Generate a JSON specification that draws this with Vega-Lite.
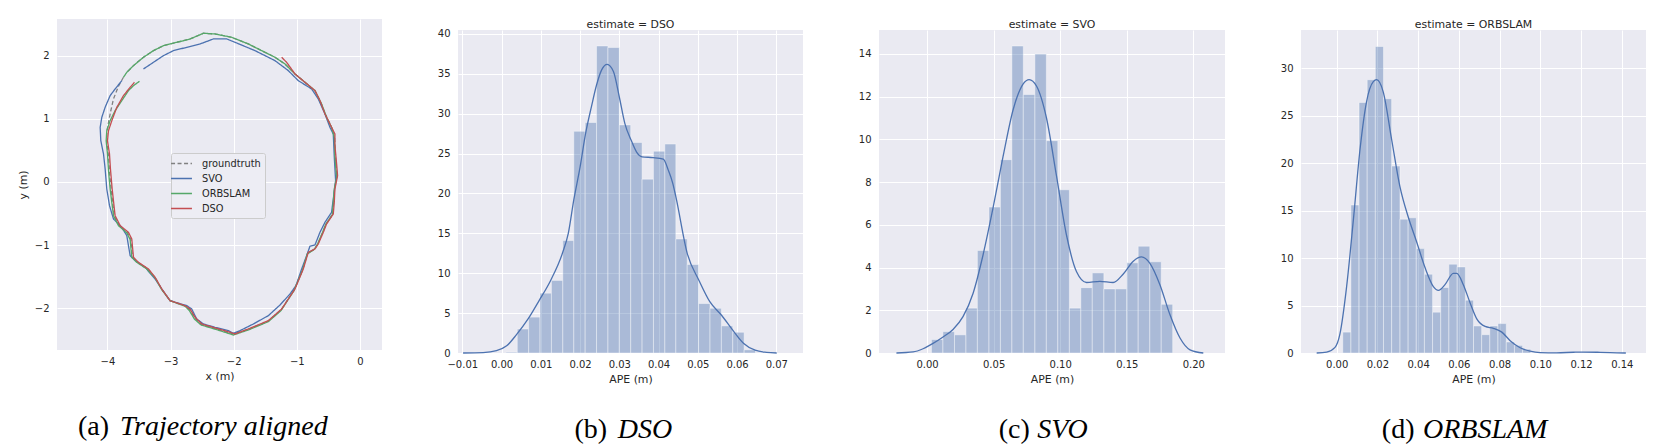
{
  "$schema": "https://vega.github.io/schema/vega-lite/v6.json",
  "background": "#ffffff",
  "padding": {"left": 17, "top": 18, "right": 0, "bottom": 0},
  "config": {
    "font": "DejaVu Sans",
    "view": {"stroke": null},
    "axis": {
      "grid": true, "gridColor": "#ffffff", "gridWidth": 1,
      "domain": false, "ticks": false, "tickSize": 0,
      "labelColor": "#262626", "labelFontSize": 10, "labelPadding": 8, "labelFont": "DejaVu Sans",
      "titleColor": "#262626", "titleFontSize": 10.9, "titleFontWeight": "normal", "titleFont": "DejaVu Sans",
      "titlePadding": 4
    },
    "axisX": {"labelPadding": 6},
    "legend": {
      "fillColor": "#EDEDF4", "strokeColor": "#cccccc", "padding": 4, "cornerRadius": 2,
      "symbolType": "M-1.9,0L1.9,0", "symbolSize": 121, "symbolStrokeWidth": 1.3,
      "labelFontSize": 9.8, "labelColor": "#262626", "labelFont": "DejaVu Sans", "rowPadding": 3, "labelOffset": 14
    }
  },
  "datasets": {
    "traj": [
      {"estimate": "groundtruth", "i": 0, "x": -3.747, "y": 1.657},
      {"estimate": "groundtruth", "i": 1, "x": -3.826, "y": 1.515},
      {"estimate": "groundtruth", "i": 2, "x": -3.905, "y": 1.314},
      {"estimate": "groundtruth", "i": 3, "x": -3.947, "y": 1.129},
      {"estimate": "groundtruth", "i": 4, "x": -3.984, "y": 0.945},
      {"estimate": "groundtruth", "i": 5, "x": -4.011, "y": 0.786},
      {"estimate": "groundtruth", "i": 6, "x": -4.011, "y": 0.628},
      {"estimate": "groundtruth", "i": 7, "x": -3.984, "y": 0.417},
      {"estimate": "groundtruth", "i": 8, "x": -3.968, "y": 0.153},
      {"estimate": "groundtruth", "i": 9, "x": -3.942, "y": -0.111},
      {"estimate": "groundtruth", "i": 10, "x": -3.894, "y": -0.533},
      {"estimate": "groundtruth", "i": 11, "x": -3.815, "y": -0.691},
      {"estimate": "groundtruth", "i": 12, "x": -3.683, "y": -0.802},
      {"estimate": "groundtruth", "i": 13, "x": -3.631, "y": -0.908},
      {"estimate": "groundtruth", "i": 14, "x": -3.604, "y": -1.193},
      {"estimate": "groundtruth", "i": 15, "x": -3.525, "y": -1.272},
      {"estimate": "groundtruth", "i": 16, "x": -3.367, "y": -1.377},
      {"estimate": "groundtruth", "i": 17, "x": -3.245, "y": -1.514},
      {"estimate": "groundtruth", "i": 18, "x": -3.140, "y": -1.699},
      {"estimate": "groundtruth", "i": 19, "x": -3.008, "y": -1.879},
      {"estimate": "groundtruth", "i": 20, "x": -2.770, "y": -1.963},
      {"estimate": "groundtruth", "i": 21, "x": -2.697, "y": -2.021},
      {"estimate": "groundtruth", "i": 22, "x": -2.617, "y": -2.153},
      {"estimate": "groundtruth", "i": 23, "x": -2.512, "y": -2.259},
      {"estimate": "groundtruth", "i": 24, "x": -2.269, "y": -2.327},
      {"estimate": "groundtruth", "i": 25, "x": -2.021, "y": -2.406},
      {"estimate": "groundtruth", "i": 26, "x": -1.768, "y": -2.332},
      {"estimate": "groundtruth", "i": 27, "x": -1.451, "y": -2.201},
      {"estimate": "groundtruth", "i": 28, "x": -1.245, "y": -2.021},
      {"estimate": "groundtruth", "i": 29, "x": -1.040, "y": -1.704},
      {"estimate": "groundtruth", "i": 30, "x": -0.908, "y": -1.388},
      {"estimate": "groundtruth", "i": 31, "x": -0.828, "y": -1.124},
      {"estimate": "groundtruth", "i": 32, "x": -0.723, "y": -1.066},
      {"estimate": "groundtruth", "i": 33, "x": -0.670, "y": -0.987},
      {"estimate": "groundtruth", "i": 34, "x": -0.591, "y": -0.802},
      {"estimate": "groundtruth", "i": 35, "x": -0.538, "y": -0.670},
      {"estimate": "groundtruth", "i": 36, "x": -0.433, "y": -0.512},
      {"estimate": "groundtruth", "i": 37, "x": -0.417, "y": -0.322},
      {"estimate": "groundtruth", "i": 38, "x": -0.401, "y": -0.111},
      {"estimate": "groundtruth", "i": 39, "x": -0.364, "y": 0.090},
      {"estimate": "groundtruth", "i": 40, "x": -0.385, "y": 0.364},
      {"estimate": "groundtruth", "i": 41, "x": -0.401, "y": 0.707},
      {"estimate": "groundtruth", "i": 42, "x": -0.459, "y": 0.892},
      {"estimate": "groundtruth", "i": 43, "x": -0.538, "y": 1.050},
      {"estimate": "groundtruth", "i": 44, "x": -0.623, "y": 1.261},
      {"estimate": "groundtruth", "i": 45, "x": -0.712, "y": 1.446},
      {"estimate": "groundtruth", "i": 46, "x": -0.871, "y": 1.578},
      {"estimate": "groundtruth", "i": 47, "x": -1.029, "y": 1.710},
      {"estimate": "groundtruth", "i": 48, "x": -1.187, "y": 1.868},
      {"estimate": "groundtruth", "i": 49, "x": -1.346, "y": 1.974},
      {"estimate": "groundtruth", "i": 50, "x": -1.557, "y": 2.079},
      {"estimate": "groundtruth", "i": 51, "x": -1.768, "y": 2.185},
      {"estimate": "groundtruth", "i": 52, "x": -2.032, "y": 2.290},
      {"estimate": "groundtruth", "i": 53, "x": -2.296, "y": 2.343},
      {"estimate": "groundtruth", "i": 54, "x": -2.480, "y": 2.354},
      {"estimate": "groundtruth", "i": 55, "x": -2.691, "y": 2.264},
      {"estimate": "groundtruth", "i": 56, "x": -2.902, "y": 2.211},
      {"estimate": "groundtruth", "i": 57, "x": -3.113, "y": 2.158},
      {"estimate": "groundtruth", "i": 58, "x": -3.272, "y": 2.079},
      {"estimate": "groundtruth", "i": 59, "x": -3.430, "y": 1.974},
      {"estimate": "groundtruth", "i": 60, "x": -3.588, "y": 1.842},
      {"estimate": "groundtruth", "i": 61, "x": -3.694, "y": 1.736},

      {"estimate": "SVO", "i": 0, "x": -3.430, "y": 1.789},
      {"estimate": "SVO", "i": 1, "x": -3.272, "y": 1.894},
      {"estimate": "SVO", "i": 2, "x": -3.113, "y": 2.000},
      {"estimate": "SVO", "i": 3, "x": -2.955, "y": 2.079},
      {"estimate": "SVO", "i": 4, "x": -2.744, "y": 2.132},
      {"estimate": "SVO", "i": 5, "x": -2.533, "y": 2.185},
      {"estimate": "SVO", "i": 6, "x": -2.322, "y": 2.264},
      {"estimate": "SVO", "i": 7, "x": -2.111, "y": 2.264},
      {"estimate": "SVO", "i": 8, "x": -1.979, "y": 2.211},
      {"estimate": "SVO", "i": 9, "x": -1.662, "y": 2.079},
      {"estimate": "SVO", "i": 10, "x": -1.346, "y": 1.921},
      {"estimate": "SVO", "i": 11, "x": -1.135, "y": 1.763},
      {"estimate": "SVO", "i": 12, "x": -0.976, "y": 1.604},
      {"estimate": "SVO", "i": 13, "x": -0.765, "y": 1.472},
      {"estimate": "SVO", "i": 14, "x": -0.660, "y": 1.314},
      {"estimate": "SVO", "i": 15, "x": -0.554, "y": 1.077},
      {"estimate": "SVO", "i": 16, "x": -0.475, "y": 0.865},
      {"estimate": "SVO", "i": 17, "x": -0.422, "y": 0.760},
      {"estimate": "SVO", "i": 18, "x": -0.406, "y": 0.391},
      {"estimate": "SVO", "i": 19, "x": -0.385, "y": 0.021},
      {"estimate": "SVO", "i": 20, "x": -0.422, "y": -0.269},
      {"estimate": "SVO", "i": 21, "x": -0.449, "y": -0.480},
      {"estimate": "SVO", "i": 22, "x": -0.554, "y": -0.639},
      {"estimate": "SVO", "i": 23, "x": -0.633, "y": -0.797},
      {"estimate": "SVO", "i": 24, "x": -0.712, "y": -0.997},
      {"estimate": "SVO", "i": 25, "x": -0.792, "y": -1.018},
      {"estimate": "SVO", "i": 26, "x": -0.844, "y": -1.166},
      {"estimate": "SVO", "i": 27, "x": -0.923, "y": -1.377},
      {"estimate": "SVO", "i": 28, "x": -1.013, "y": -1.641},
      {"estimate": "SVO", "i": 29, "x": -1.108, "y": -1.773},
      {"estimate": "SVO", "i": 30, "x": -1.266, "y": -1.947},
      {"estimate": "SVO", "i": 31, "x": -1.451, "y": -2.116},
      {"estimate": "SVO", "i": 32, "x": -1.689, "y": -2.248},
      {"estimate": "SVO", "i": 33, "x": -1.900, "y": -2.354},
      {"estimate": "SVO", "i": 34, "x": -2.005, "y": -2.396},
      {"estimate": "SVO", "i": 35, "x": -2.084, "y": -2.354},
      {"estimate": "SVO", "i": 36, "x": -2.296, "y": -2.301},
      {"estimate": "SVO", "i": 37, "x": -2.480, "y": -2.248},
      {"estimate": "SVO", "i": 38, "x": -2.586, "y": -2.169},
      {"estimate": "SVO", "i": 39, "x": -2.665, "y": -2.011},
      {"estimate": "SVO", "i": 40, "x": -2.744, "y": -1.958},
      {"estimate": "SVO", "i": 41, "x": -3.008, "y": -1.879},
      {"estimate": "SVO", "i": 42, "x": -3.140, "y": -1.694},
      {"estimate": "SVO", "i": 43, "x": -3.245, "y": -1.536},
      {"estimate": "SVO", "i": 44, "x": -3.404, "y": -1.351},
      {"estimate": "SVO", "i": 45, "x": -3.562, "y": -1.245},
      {"estimate": "SVO", "i": 46, "x": -3.641, "y": -1.166},
      {"estimate": "SVO", "i": 47, "x": -3.694, "y": -0.850},
      {"estimate": "SVO", "i": 48, "x": -3.773, "y": -0.718},
      {"estimate": "SVO", "i": 49, "x": -3.905, "y": -0.586},
      {"estimate": "SVO", "i": 50, "x": -3.968, "y": -0.375},
      {"estimate": "SVO", "i": 51, "x": -4.011, "y": -0.111},
      {"estimate": "SVO", "i": 52, "x": -4.037, "y": 0.206},
      {"estimate": "SVO", "i": 53, "x": -4.063, "y": 0.443},
      {"estimate": "SVO", "i": 54, "x": -4.106, "y": 0.654},
      {"estimate": "SVO", "i": 55, "x": -4.116, "y": 0.865},
      {"estimate": "SVO", "i": 56, "x": -4.090, "y": 1.024},
      {"estimate": "SVO", "i": 57, "x": -4.037, "y": 1.182},
      {"estimate": "SVO", "i": 58, "x": -3.958, "y": 1.367},
      {"estimate": "SVO", "i": 59, "x": -3.879, "y": 1.472},
      {"estimate": "SVO", "i": 60, "x": -3.773, "y": 1.604},

      {"estimate": "ORBSLAM", "i": 0, "x": -3.493, "y": 1.594},
      {"estimate": "ORBSLAM", "i": 1, "x": -3.588, "y": 1.525},
      {"estimate": "ORBSLAM", "i": 2, "x": -3.668, "y": 1.446},
      {"estimate": "ORBSLAM", "i": 3, "x": -3.773, "y": 1.288},
      {"estimate": "ORBSLAM", "i": 4, "x": -3.879, "y": 1.129},
      {"estimate": "ORBSLAM", "i": 5, "x": -3.958, "y": 0.971},
      {"estimate": "ORBSLAM", "i": 6, "x": -4.011, "y": 0.813},
      {"estimate": "ORBSLAM", "i": 7, "x": -4.021, "y": 0.654},
      {"estimate": "ORBSLAM", "i": 8, "x": -4.000, "y": 0.443},
      {"estimate": "ORBSLAM", "i": 9, "x": -3.984, "y": 0.179},
      {"estimate": "ORBSLAM", "i": 10, "x": -3.958, "y": -0.111},
      {"estimate": "ORBSLAM", "i": 11, "x": -3.905, "y": -0.533},
      {"estimate": "ORBSLAM", "i": 12, "x": -3.826, "y": -0.691},
      {"estimate": "ORBSLAM", "i": 13, "x": -3.694, "y": -0.807},
      {"estimate": "ORBSLAM", "i": 14, "x": -3.641, "y": -0.913},
      {"estimate": "ORBSLAM", "i": 15, "x": -3.615, "y": -1.193},
      {"estimate": "ORBSLAM", "i": 16, "x": -3.536, "y": -1.272},
      {"estimate": "ORBSLAM", "i": 17, "x": -3.377, "y": -1.377},
      {"estimate": "ORBSLAM", "i": 18, "x": -3.245, "y": -1.520},
      {"estimate": "ORBSLAM", "i": 19, "x": -3.140, "y": -1.705},
      {"estimate": "ORBSLAM", "i": 20, "x": -3.008, "y": -1.879},
      {"estimate": "ORBSLAM", "i": 21, "x": -2.770, "y": -1.968},
      {"estimate": "ORBSLAM", "i": 22, "x": -2.702, "y": -2.037},
      {"estimate": "ORBSLAM", "i": 23, "x": -2.623, "y": -2.169},
      {"estimate": "ORBSLAM", "i": 24, "x": -2.517, "y": -2.264},
      {"estimate": "ORBSLAM", "i": 25, "x": -2.269, "y": -2.338},
      {"estimate": "ORBSLAM", "i": 26, "x": -2.005, "y": -2.422},
      {"estimate": "ORBSLAM", "i": 27, "x": -1.768, "y": -2.343},
      {"estimate": "ORBSLAM", "i": 28, "x": -1.451, "y": -2.211},
      {"estimate": "ORBSLAM", "i": 29, "x": -1.251, "y": -2.037},
      {"estimate": "ORBSLAM", "i": 30, "x": -1.045, "y": -1.720},
      {"estimate": "ORBSLAM", "i": 31, "x": -0.913, "y": -1.404},
      {"estimate": "ORBSLAM", "i": 32, "x": -0.834, "y": -1.140},
      {"estimate": "ORBSLAM", "i": 33, "x": -0.728, "y": -1.071},
      {"estimate": "ORBSLAM", "i": 34, "x": -0.675, "y": -0.992},
      {"estimate": "ORBSLAM", "i": 35, "x": -0.596, "y": -0.807},
      {"estimate": "ORBSLAM", "i": 36, "x": -0.544, "y": -0.675},
      {"estimate": "ORBSLAM", "i": 37, "x": -0.438, "y": -0.517},
      {"estimate": "ORBSLAM", "i": 38, "x": -0.422, "y": -0.322},
      {"estimate": "ORBSLAM", "i": 39, "x": -0.406, "y": -0.111},
      {"estimate": "ORBSLAM", "i": 40, "x": -0.369, "y": 0.074},
      {"estimate": "ORBSLAM", "i": 41, "x": -0.396, "y": 0.391},
      {"estimate": "ORBSLAM", "i": 42, "x": -0.406, "y": 0.707},
      {"estimate": "ORBSLAM", "i": 43, "x": -0.449, "y": 0.865},
      {"estimate": "ORBSLAM", "i": 44, "x": -0.528, "y": 1.024},
      {"estimate": "ORBSLAM", "i": 45, "x": -0.607, "y": 1.235},
      {"estimate": "ORBSLAM", "i": 46, "x": -0.712, "y": 1.446},
      {"estimate": "ORBSLAM", "i": 47, "x": -0.871, "y": 1.578},
      {"estimate": "ORBSLAM", "i": 48, "x": -1.029, "y": 1.710},
      {"estimate": "ORBSLAM", "i": 49, "x": -1.187, "y": 1.868},
      {"estimate": "ORBSLAM", "i": 50, "x": -1.346, "y": 1.974},
      {"estimate": "ORBSLAM", "i": 51, "x": -1.557, "y": 2.079},
      {"estimate": "ORBSLAM", "i": 52, "x": -1.768, "y": 2.185},
      {"estimate": "ORBSLAM", "i": 53, "x": -2.032, "y": 2.290},
      {"estimate": "ORBSLAM", "i": 54, "x": -2.296, "y": 2.343},
      {"estimate": "ORBSLAM", "i": 55, "x": -2.480, "y": 2.354},
      {"estimate": "ORBSLAM", "i": 56, "x": -2.691, "y": 2.264},
      {"estimate": "ORBSLAM", "i": 57, "x": -2.902, "y": 2.211},
      {"estimate": "ORBSLAM", "i": 58, "x": -3.113, "y": 2.158},
      {"estimate": "ORBSLAM", "i": 59, "x": -3.272, "y": 2.079},
      {"estimate": "ORBSLAM", "i": 60, "x": -3.430, "y": 1.974},
      {"estimate": "ORBSLAM", "i": 61, "x": -3.588, "y": 1.842},
      {"estimate": "ORBSLAM", "i": 62, "x": -3.694, "y": 1.736},
      {"estimate": "ORBSLAM", "i": 63, "x": -3.747, "y": 1.657},

      {"estimate": "DSO", "i": 0, "x": -3.573, "y": 1.578},
      {"estimate": "DSO", "i": 1, "x": -3.641, "y": 1.499},
      {"estimate": "DSO", "i": 2, "x": -3.747, "y": 1.367},
      {"estimate": "DSO", "i": 3, "x": -3.852, "y": 1.182},
      {"estimate": "DSO", "i": 4, "x": -3.931, "y": 0.971},
      {"estimate": "DSO", "i": 5, "x": -3.984, "y": 0.813},
      {"estimate": "DSO", "i": 6, "x": -4.000, "y": 0.654},
      {"estimate": "DSO", "i": 7, "x": -3.968, "y": 0.443},
      {"estimate": "DSO", "i": 8, "x": -3.953, "y": 0.206},
      {"estimate": "DSO", "i": 9, "x": -3.926, "y": -0.111},
      {"estimate": "DSO", "i": 10, "x": -3.879, "y": -0.533},
      {"estimate": "DSO", "i": 11, "x": -3.799, "y": -0.691},
      {"estimate": "DSO", "i": 12, "x": -3.668, "y": -0.797},
      {"estimate": "DSO", "i": 13, "x": -3.615, "y": -0.902},
      {"estimate": "DSO", "i": 14, "x": -3.588, "y": -1.193},
      {"estimate": "DSO", "i": 15, "x": -3.509, "y": -1.272},
      {"estimate": "DSO", "i": 16, "x": -3.351, "y": -1.377},
      {"estimate": "DSO", "i": 17, "x": -3.245, "y": -1.509},
      {"estimate": "DSO", "i": 18, "x": -3.140, "y": -1.694},
      {"estimate": "DSO", "i": 19, "x": -3.008, "y": -1.879},
      {"estimate": "DSO", "i": 20, "x": -2.770, "y": -1.958},
      {"estimate": "DSO", "i": 21, "x": -2.691, "y": -2.011},
      {"estimate": "DSO", "i": 22, "x": -2.612, "y": -2.142},
      {"estimate": "DSO", "i": 23, "x": -2.507, "y": -2.248},
      {"estimate": "DSO", "i": 24, "x": -2.269, "y": -2.317},
      {"estimate": "DSO", "i": 25, "x": -2.058, "y": -2.380},
      {"estimate": "DSO", "i": 26, "x": -1.979, "y": -2.406},
      {"estimate": "DSO", "i": 27, "x": -1.768, "y": -2.327},
      {"estimate": "DSO", "i": 28, "x": -1.451, "y": -2.195},
      {"estimate": "DSO", "i": 29, "x": -1.240, "y": -2.011},
      {"estimate": "DSO", "i": 30, "x": -1.029, "y": -1.694},
      {"estimate": "DSO", "i": 31, "x": -0.897, "y": -1.377},
      {"estimate": "DSO", "i": 32, "x": -0.818, "y": -1.113},
      {"estimate": "DSO", "i": 33, "x": -0.712, "y": -1.061},
      {"estimate": "DSO", "i": 34, "x": -0.660, "y": -0.982},
      {"estimate": "DSO", "i": 35, "x": -0.580, "y": -0.797},
      {"estimate": "DSO", "i": 36, "x": -0.528, "y": -0.665},
      {"estimate": "DSO", "i": 37, "x": -0.422, "y": -0.507},
      {"estimate": "DSO", "i": 38, "x": -0.406, "y": -0.322},
      {"estimate": "DSO", "i": 39, "x": -0.396, "y": -0.111},
      {"estimate": "DSO", "i": 40, "x": -0.354, "y": 0.100},
      {"estimate": "DSO", "i": 41, "x": -0.369, "y": 0.285},
      {"estimate": "DSO", "i": 42, "x": -0.396, "y": 0.575},
      {"estimate": "DSO", "i": 43, "x": -0.396, "y": 0.760},
      {"estimate": "DSO", "i": 44, "x": -0.475, "y": 0.918},
      {"estimate": "DSO", "i": 45, "x": -0.554, "y": 1.077},
      {"estimate": "DSO", "i": 46, "x": -0.633, "y": 1.288},
      {"estimate": "DSO", "i": 47, "x": -0.712, "y": 1.446},
      {"estimate": "DSO", "i": 48, "x": -0.871, "y": 1.578},
      {"estimate": "DSO", "i": 49, "x": -1.029, "y": 1.710},
      {"estimate": "DSO", "i": 50, "x": -1.161, "y": 1.894},
      {"estimate": "DSO", "i": 51, "x": -1.240, "y": 1.974}
    ],
    "hist_dso": [
      {"x0": 0.0011, "x1": 0.0040, "d": 0.1},
      {"x0": 0.0040, "x1": 0.0069, "d": 3.0},
      {"x0": 0.0069, "x1": 0.0098, "d": 4.5},
      {"x0": 0.0098, "x1": 0.0127, "d": 7.5},
      {"x0": 0.0127, "x1": 0.0156, "d": 9.1},
      {"x0": 0.0156, "x1": 0.0184, "d": 14.1},
      {"x0": 0.0184, "x1": 0.0213, "d": 27.8},
      {"x0": 0.0213, "x1": 0.0242, "d": 28.9},
      {"x0": 0.0242, "x1": 0.0271, "d": 38.5},
      {"x0": 0.0271, "x1": 0.0300, "d": 38.3},
      {"x0": 0.0300, "x1": 0.0329, "d": 28.6},
      {"x0": 0.0329, "x1": 0.0358, "d": 26.4},
      {"x0": 0.0358, "x1": 0.0387, "d": 21.8},
      {"x0": 0.0387, "x1": 0.0416, "d": 25.3},
      {"x0": 0.0416, "x1": 0.0444, "d": 26.2},
      {"x0": 0.0444, "x1": 0.0473, "d": 14.3},
      {"x0": 0.0473, "x1": 0.0502, "d": 11.1},
      {"x0": 0.0502, "x1": 0.0531, "d": 6.2},
      {"x0": 0.0531, "x1": 0.0560, "d": 5.6},
      {"x0": 0.0560, "x1": 0.0589, "d": 3.4},
      {"x0": 0.0589, "x1": 0.0618, "d": 2.6},
      {"x0": 0.0618, "x1": 0.0647, "d": 0.4}
    ],
    "kde_dso": [
      {"ape": -0.0098, "d": 0}, {"ape": -0.0047, "d": 0.05}, {"ape": -0.0013, "d": 0.3},
      {"ape": 0.0013, "d": 0.9}, {"ape": 0.0038, "d": 2.3}, {"ape": 0.0068, "d": 4.3},
      {"ape": 0.0096, "d": 6.6}, {"ape": 0.0125, "d": 9.1}, {"ape": 0.0155, "d": 12.5},
      {"ape": 0.0170, "d": 15.0}, {"ape": 0.0184, "d": 19.2}, {"ape": 0.0200, "d": 23.3},
      {"ape": 0.0214, "d": 27.5}, {"ape": 0.0229, "d": 30.9}, {"ape": 0.0242, "d": 33.6},
      {"ape": 0.0255, "d": 35.5}, {"ape": 0.0269, "d": 36.2}, {"ape": 0.0285, "d": 35.3},
      {"ape": 0.0300, "d": 32.1}, {"ape": 0.0314, "d": 28.8}, {"ape": 0.0330, "d": 26.7},
      {"ape": 0.0344, "d": 25.2}, {"ape": 0.0358, "d": 24.6}, {"ape": 0.0386, "d": 24.5},
      {"ape": 0.0412, "d": 24.3}, {"ape": 0.0425, "d": 22.9}, {"ape": 0.0436, "d": 21.3},
      {"ape": 0.0444, "d": 19.6}, {"ape": 0.0473, "d": 12.5}, {"ape": 0.0503, "d": 9.1},
      {"ape": 0.0531, "d": 6.4}, {"ape": 0.0561, "d": 4.7}, {"ape": 0.0590, "d": 2.8},
      {"ape": 0.0617, "d": 1.2}, {"ape": 0.0646, "d": 0.35}, {"ape": 0.0675, "d": 0.08},
      {"ape": 0.0701, "d": 0}
    ],
    "hist_svo": [
      {"x0": 0.0033, "x1": 0.0119, "d": 0.63},
      {"x0": 0.0119, "x1": 0.0206, "d": 1.0},
      {"x0": 0.0206, "x1": 0.0292, "d": 0.85},
      {"x0": 0.0292, "x1": 0.0378, "d": 2.1},
      {"x0": 0.0378, "x1": 0.0465, "d": 4.8},
      {"x0": 0.0465, "x1": 0.0551, "d": 6.83},
      {"x0": 0.0551, "x1": 0.0637, "d": 9.05},
      {"x0": 0.0637, "x1": 0.0723, "d": 14.37},
      {"x0": 0.0723, "x1": 0.0810, "d": 12.1},
      {"x0": 0.0810, "x1": 0.0896, "d": 14.0},
      {"x0": 0.0896, "x1": 0.0982, "d": 9.94},
      {"x0": 0.0982, "x1": 0.1069, "d": 7.64},
      {"x0": 0.1069, "x1": 0.1155, "d": 2.1},
      {"x0": 0.1155, "x1": 0.1241, "d": 3.06},
      {"x0": 0.1241, "x1": 0.1328, "d": 3.75},
      {"x0": 0.1328, "x1": 0.1414, "d": 3.0},
      {"x0": 0.1414, "x1": 0.1500, "d": 3.0},
      {"x0": 0.1500, "x1": 0.1586, "d": 4.22},
      {"x0": 0.1586, "x1": 0.1673, "d": 5.0},
      {"x0": 0.1673, "x1": 0.1759, "d": 4.27},
      {"x0": 0.1759, "x1": 0.1845, "d": 2.28}
    ],
    "kde_svo": [
      {"ape": -0.0230, "d": 0}, {"ape": -0.0105, "d": 0.05}, {"ape": -0.0030, "d": 0.2},
      {"ape": 0.0045, "d": 0.45}, {"ape": 0.0120, "d": 0.75}, {"ape": 0.0195, "d": 1.1},
      {"ape": 0.0270, "d": 1.7}, {"ape": 0.0346, "d": 2.8}, {"ape": 0.0421, "d": 4.6},
      {"ape": 0.0496, "d": 6.8}, {"ape": 0.0571, "d": 9.2}, {"ape": 0.0647, "d": 11.4},
      {"ape": 0.0722, "d": 12.6}, {"ape": 0.0767, "d": 12.8}, {"ape": 0.0822, "d": 12.5},
      {"ape": 0.0897, "d": 11.0}, {"ape": 0.0972, "d": 8.3}, {"ape": 0.1048, "d": 5.5},
      {"ape": 0.1123, "d": 3.8}, {"ape": 0.1198, "d": 3.3}, {"ape": 0.1298, "d": 3.35},
      {"ape": 0.1398, "d": 3.3}, {"ape": 0.1474, "d": 3.7}, {"ape": 0.1549, "d": 4.3},
      {"ape": 0.1611, "d": 4.5}, {"ape": 0.1674, "d": 4.2}, {"ape": 0.1749, "d": 3.2},
      {"ape": 0.1824, "d": 1.8}, {"ape": 0.1900, "d": 0.7}, {"ape": 0.1975, "d": 0.15},
      {"ape": 0.2075, "d": 0}
    ],
    "hist_orb": [
      {"x0": 0.0030, "x1": 0.0070, "d": 2.2},
      {"x0": 0.0070, "x1": 0.0110, "d": 15.6},
      {"x0": 0.0110, "x1": 0.0150, "d": 26.4},
      {"x0": 0.0150, "x1": 0.0190, "d": 28.8},
      {"x0": 0.0190, "x1": 0.0230, "d": 32.3},
      {"x0": 0.0230, "x1": 0.0270, "d": 26.8},
      {"x0": 0.0270, "x1": 0.0311, "d": 19.7},
      {"x0": 0.0311, "x1": 0.0351, "d": 14.1},
      {"x0": 0.0351, "x1": 0.0391, "d": 14.25},
      {"x0": 0.0391, "x1": 0.0431, "d": 11.0},
      {"x0": 0.0431, "x1": 0.0471, "d": 8.3},
      {"x0": 0.0471, "x1": 0.0511, "d": 4.3},
      {"x0": 0.0511, "x1": 0.0551, "d": 6.9},
      {"x0": 0.0551, "x1": 0.0592, "d": 9.36},
      {"x0": 0.0592, "x1": 0.0632, "d": 9.07},
      {"x0": 0.0632, "x1": 0.0672, "d": 5.56},
      {"x0": 0.0672, "x1": 0.0712, "d": 2.85},
      {"x0": 0.0712, "x1": 0.0752, "d": 1.93},
      {"x0": 0.0752, "x1": 0.0792, "d": 2.85},
      {"x0": 0.0792, "x1": 0.0833, "d": 3.1},
      {"x0": 0.0833, "x1": 0.0873, "d": 1.16},
      {"x0": 0.0873, "x1": 0.0913, "d": 0.8},
      {"x0": 0.0913, "x1": 0.0953, "d": 0.4}
    ],
    "kde_orb": [
      {"ape": -0.0098, "d": 0}, {"ape": -0.0049, "d": 0.1}, {"ape": -0.0008, "d": 0.6},
      {"ape": 0.0016, "d": 2.0}, {"ape": 0.0049, "d": 7.0}, {"ape": 0.0082, "d": 14.0},
      {"ape": 0.0115, "d": 21.5}, {"ape": 0.0147, "d": 26.5}, {"ape": 0.0180, "d": 28.6},
      {"ape": 0.0196, "d": 28.8}, {"ape": 0.0229, "d": 27.5}, {"ape": 0.0270, "d": 22.5},
      {"ape": 0.0311, "d": 17.5}, {"ape": 0.0352, "d": 14.3}, {"ape": 0.0393, "d": 11.7},
      {"ape": 0.0434, "d": 9.0}, {"ape": 0.0475, "d": 7.0}, {"ape": 0.0500, "d": 6.6},
      {"ape": 0.0532, "d": 7.2}, {"ape": 0.0573, "d": 8.4}, {"ape": 0.0590, "d": 8.4},
      {"ape": 0.0622, "d": 7.2}, {"ape": 0.0655, "d": 5.3}, {"ape": 0.0688, "d": 3.6},
      {"ape": 0.0729, "d": 2.8}, {"ape": 0.0770, "d": 2.6}, {"ape": 0.0811, "d": 2.2},
      {"ape": 0.0852, "d": 1.3}, {"ape": 0.0901, "d": 0.55}, {"ape": 0.0950, "d": 0.2},
      {"ape": 0.0999, "d": 0.05}, {"ape": 0.1080, "d": 0.02}, {"ape": 0.1163, "d": 0.08},
      {"ape": 0.1212, "d": 0.1}, {"ape": 0.1294, "d": 0.07}, {"ape": 0.1376, "d": 0.02},
      {"ape": 0.1420, "d": 0}
    ],
    "captions": [
      {"panel": "a", "label": "(a)", "name": "Trajectory aligned", "header": ""},
      {"panel": "b", "label": "(b)", "name": "DSO", "header": "estimate = DSO"},
      {"panel": "c", "label": "(c)", "name": "SVO", "header": "estimate = SVO"},
      {"panel": "d", "label": "(d)", "name": "ORBSLAM", "header": "estimate = ORBSLAM"}
    ]
  },
  "spacing": 55,
  "hconcat": [
    {
      "spacing": 31,
      "vconcat": [
        {
          "width": 325, "height": 331,
          "view": {"fill": "#EAEAF2"},
          "data": {"name": "traj"},
          "encoding": {
            "x": {"field": "x", "type": "quantitative", "title": "x (m)",
                  "scale": {"domain": [-4.8, 0.35], "nice": false, "zero": false},
                  "axis": {"values": [-4, -3, -2, -1, 0], "format": "d"}},
            "y": {"field": "y", "type": "quantitative", "title": "y (m)",
                  "scale": {"domain": [-2.66, 2.58], "nice": false, "zero": false},
                  "axis": {"values": [-2, -1, 0, 1, 2], "format": "d", "titlePadding": 6}},
            "order": {"field": "i", "type": "quantitative"},
            "color": {"field": "estimate", "type": "nominal", "title": null,
                      "scale": {"domain": ["groundtruth", "SVO", "ORBSLAM", "DSO"],
                                "range": ["#808080", "#4C72B0", "#55A868", "#C44E52"]},
                      "legend": {"orient": "none", "legendX": 114, "legendY": 134}},
            "strokeDash": {"field": "estimate", "type": "nominal", "title": null,
                           "scale": {"domain": ["groundtruth", "SVO", "ORBSLAM", "DSO"],
                                     "range": [[4, 2.5], [1, 0], [1, 0], [1, 0]]},
                           "legend": {"orient": "none", "legendX": 114, "legendY": 134}}
          },
          "layer": [
            {"transform": [{"filter": "datum.estimate === 'groundtruth'"}], "mark": {"type": "line", "strokeWidth": 1.3}},
            {"transform": [{"filter": "datum.estimate === 'SVO'"}], "mark": {"type": "line", "strokeWidth": 1.3}},
            {"transform": [{"filter": "datum.estimate === 'ORBSLAM'"}], "mark": {"type": "line", "strokeWidth": 1.3}},
            {"transform": [{"filter": "datum.estimate === 'DSO'"}], "mark": {"type": "line", "strokeWidth": 1.3}}
          ]
        },
        {
          "width": 325, "height": 30,
          "data": {"name": "captions"},
          "transform": [{"filter": "datum.panel === 'a'"}],
          "layer": [
            {"mark": {"type": "text", "align": "right", "baseline": "middle", "dx": -110.5, "font": "Liberation Serif", "fontSize": 28, "color": "#000000"},
             "encoding": {"text": {"field": "label"}}},
            {"mark": {"type": "text", "align": "left", "baseline": "middle", "dx": -99.5, "font": "Liberation Serif", "fontStyle": "italic", "fontSize": 28, "color": "#000000"},
             "encoding": {"text": {"field": "name"}}}
          ]
        }
      ]
    },
    {
      "spacing": 31,
      "vconcat": [
        {
          "bounds": "flush",
          "spacing": 0,
          "vconcat": [
            {
              "width": 345, "height": 11,
              "data": {"name": "captions"},
              "transform": [{"filter": "datum.panel === 'b'"}],
              "mark": {"type": "text", "baseline": "middle", "font": "DejaVu Sans", "fontSize": 10.9, "color": "#262626"},
              "encoding": {"text": {"field": "header"}}
            },
            {
              "width": 345, "height": 323,
              "view": {"fill": "#EAEAF2"},
              "layer": [
                {
                  "data": {"name": "hist_dso"},
                  "mark": {"type": "bar", "fill": "#4C72B0", "fillOpacity": 0.4, "stroke": "#ffffff", "strokeOpacity": 0.5, "strokeWidth": 0.8},
                  "encoding": {
                    "x": {"field": "x0", "type": "quantitative", "title": "APE (m)",
                          "scale": {"domain": [-0.0111, 0.0768], "nice": false, "zero": false},
                          "axis": {"values": [-0.01, 0, 0.01, 0.02, 0.03, 0.04, 0.05, 0.06, 0.07], "format": ".2f"}},
                    "x2": {"field": "x1"},
                    "y": {"field": "d", "type": "quantitative", "title": null,
                          "scale": {"domain": [0, 40.5], "nice": false},
                          "axis": {"values": [0, 5, 10, 15, 20, 25, 30, 35, 40]}},
                    "y2": {"datum": 0}
                  }
                },
                {
                  "data": {"name": "kde_dso"},
                  "mark": {"type": "line", "color": "#4C72B0", "strokeWidth": 1.3, "interpolate": "monotone"},
                  "encoding": {
                    "x": {"field": "ape", "type": "quantitative"},
                    "y": {"field": "d", "type": "quantitative"}
                  }
                }
              ]
            }
          ]
        },
        {
          "width": 345, "height": 30,
          "data": {"name": "captions"},
          "transform": [{"filter": "datum.panel === 'b'"}],
          "layer": [
            {"mark": {"type": "text", "align": "right", "baseline": "middle", "dx": -23.4, "font": "Liberation Serif", "fontSize": 28, "color": "#000000"},
             "encoding": {"text": {"field": "label"}}},
            {"mark": {"type": "text", "align": "left", "baseline": "middle", "dx": -12.8, "font": "Liberation Serif", "fontStyle": "italic", "fontSize": 28, "color": "#000000"},
             "encoding": {"text": {"field": "name"}}}
          ]
        }
      ]
    },
    {
      "spacing": 31,
      "vconcat": [
        {
          "bounds": "flush",
          "spacing": 0,
          "vconcat": [
            {
              "width": 346, "height": 11,
              "data": {"name": "captions"},
              "transform": [{"filter": "datum.panel === 'c'"}],
              "mark": {"type": "text", "baseline": "middle", "font": "DejaVu Sans", "fontSize": 10.9, "color": "#262626"},
              "encoding": {"text": {"field": "header"}}
            },
            {
              "width": 346, "height": 323,
              "view": {"fill": "#EAEAF2"},
              "layer": [
                {
                  "data": {"name": "hist_svo"},
                  "mark": {"type": "bar", "fill": "#4C72B0", "fillOpacity": 0.4, "stroke": "#ffffff", "strokeOpacity": 0.5, "strokeWidth": 0.8},
                  "encoding": {
                    "x": {"field": "x0", "type": "quantitative", "title": "APE (m)",
                          "scale": {"domain": [-0.0361, 0.2238], "nice": false, "zero": false},
                          "axis": {"values": [0, 0.05, 0.1, 0.15, 0.2], "format": ".2f"}},
                    "x2": {"field": "x1"},
                    "y": {"field": "d", "type": "quantitative", "title": null,
                          "scale": {"domain": [0, 15.12], "nice": false},
                          "axis": {"values": [0, 2, 4, 6, 8, 10, 12, 14]}},
                    "y2": {"datum": 0}
                  }
                },
                {
                  "data": {"name": "kde_svo"},
                  "mark": {"type": "line", "color": "#4C72B0", "strokeWidth": 1.3, "interpolate": "monotone"},
                  "encoding": {
                    "x": {"field": "ape", "type": "quantitative"},
                    "y": {"field": "d", "type": "quantitative"}
                  }
                }
              ]
            }
          ]
        },
        {
          "width": 346, "height": 30,
          "data": {"name": "captions"},
          "transform": [{"filter": "datum.panel === 'c'"}],
          "layer": [
            {"mark": {"type": "text", "align": "right", "baseline": "middle", "dx": -22.2, "font": "Liberation Serif", "fontSize": 28, "color": "#000000"},
             "encoding": {"text": {"field": "label"}}},
            {"mark": {"type": "text", "align": "left", "baseline": "middle", "dx": -14.7, "font": "Liberation Serif", "fontStyle": "italic", "fontSize": 28, "color": "#000000"},
             "encoding": {"text": {"field": "name"}}}
          ]
        }
      ]
    },
    {
      "spacing": 31,
      "vconcat": [
        {
          "bounds": "flush",
          "spacing": 0,
          "vconcat": [
            {
              "width": 345, "height": 11,
              "data": {"name": "captions"},
              "transform": [{"filter": "datum.panel === 'd'"}],
              "mark": {"type": "text", "baseline": "middle", "font": "DejaVu Sans", "fontSize": 10.9, "color": "#262626"},
              "encoding": {"text": {"field": "header"}}
            },
            {
              "width": 345, "height": 323,
              "view": {"fill": "#EAEAF2"},
              "layer": [
                {
                  "data": {"name": "hist_orb"},
                  "mark": {"type": "bar", "fill": "#4C72B0", "fillOpacity": 0.4, "stroke": "#ffffff", "strokeOpacity": 0.5, "strokeWidth": 0.8},
                  "encoding": {
                    "x": {"field": "x0", "type": "quantitative", "title": "APE (m)",
                          "scale": {"domain": [-0.0175, 0.1519], "nice": false, "zero": false},
                          "axis": {"values": [0, 0.02, 0.04, 0.06, 0.08, 0.1, 0.12, 0.14], "format": ".2f"}},
                    "x2": {"field": "x1"},
                    "y": {"field": "d", "type": "quantitative", "title": null,
                          "scale": {"domain": [0, 34.04], "nice": false},
                          "axis": {"values": [0, 5, 10, 15, 20, 25, 30]}},
                    "y2": {"datum": 0}
                  }
                },
                {
                  "data": {"name": "kde_orb"},
                  "mark": {"type": "line", "color": "#4C72B0", "strokeWidth": 1.3, "interpolate": "monotone"},
                  "encoding": {
                    "x": {"field": "ape", "type": "quantitative"},
                    "y": {"field": "d", "type": "quantitative"}
                  }
                }
              ]
            }
          ]
        },
        {
          "width": 345, "height": 30,
          "data": {"name": "captions"},
          "transform": [{"filter": "datum.panel === 'd'"}],
          "layer": [
            {"mark": {"type": "text", "align": "right", "baseline": "middle", "dx": -59, "font": "Liberation Serif", "fontSize": 28, "color": "#000000"},
             "encoding": {"text": {"field": "label"}}},
            {"mark": {"type": "text", "align": "left", "baseline": "middle", "dx": -50.5, "font": "Liberation Serif", "fontStyle": "italic", "fontSize": 28, "color": "#000000"},
             "encoding": {"text": {"field": "name"}}}
          ]
        }
      ]
    }
  ]
}
